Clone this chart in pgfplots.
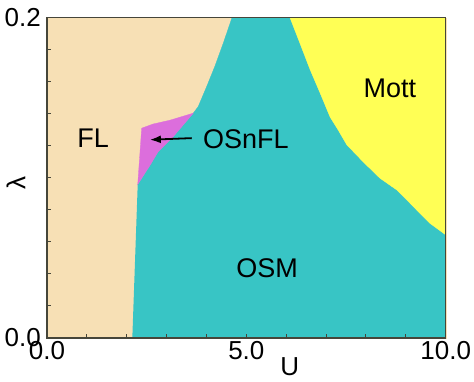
\documentclass[border=0pt]{standalone}
\usepackage{fontspec}
\setmainfont{Liberation Sans}
\usepackage{pgfplots}
\pgfplotsset{compat=1.18}
\usetikzlibrary{arrows.meta}
\definecolor{flc}{RGB}{247,224,181}
\definecolor{osmc}{RGB}{56,197,197}
\definecolor{mottc}{RGB}{255,255,85}
\definecolor{osnc}{RGB}{220,110,220}
\definecolor{axc}{RGB}{70,70,58}
\begin{document}
\begin{tikzpicture}
\begin{axis}[
  scale only axis, width=398.7pt, height=320.3pt,
  xmin=0, xmax=10, ymin=0, ymax=0.2,
  axis on top, clip=false,
  xtick={0,5,10}, xticklabels={0.0,5.0,10.0},
  ytick={0,0.2}, yticklabels={0.0,0.2},
  minor xtick={1,2,3,4,6,7,8,9},
  minor ytick={0.02,0.04,0.06,0.08,0.10,0.12,0.14,0.16,0.18},
  tick align=inside, tick pos=left,
  major tick length=4pt, minor tick length=4pt,
  every tick/.style={axc, line width=1pt},
  axis line style={axc, line width=1.2pt},
  tick label style={font=\fontsize{26}{30}\selectfont},
  yticklabel style={inner sep=0pt, xshift=-6pt},
]
\coordinate (sw) at (rel axis cs:0,0);
\coordinate (ne) at (rel axis cs:1,1);
\addplot[fill=flc, draw=flc, line width=0.3pt] coordinates {(0,0) (10,0) (10,0.2) (0,0.2)};
\addplot[fill=osmc, draw=osmc, line width=0.3pt] coordinates {
 (2.14,0) (10,0) (10,0.0644) (9.6,0.0717) (9.19,0.082) (8.77,0.0925) (8.35,0.0998)
 (7.93,0.110) (7.52,0.1206) (7.3,0.13) (7.1,0.138) (6.85,0.153) (6.6,0.1675)
 (6.345,0.184) (6.095,0.2) (4.64,0.2) (4.42,0.184) (4.21,0.1696) (4.005,0.157)
 (3.795,0.1446) (3.67,0.1404) (3.17,0.1258) (2.79,0.1164) (2.54,0.106) (2.275,0.0956)};
\addplot[fill=mottc, draw=mottc, line width=0.3pt] coordinates {
 (6.095,0.2) (6.345,0.184) (6.6,0.1675) (6.85,0.153) (7.1,0.138) (7.3,0.13)
 (7.52,0.1206) (7.93,0.110) (8.35,0.0998) (8.77,0.0925) (9.19,0.082) (9.6,0.0717)
 (10,0.0644) (10,0.2)};
\addplot[fill=osnc, draw=osnc, line width=0.3pt] coordinates {
 (2.275,0.0956) (2.375,0.131) (2.66,0.1336) (3.085,0.136) (3.67,0.1404)
 (3.17,0.1258) (2.79,0.1164) (2.54,0.106)};
\addplot[black, line width=1.8pt, -{Latex[length=11pt,width=8pt]}] coordinates {(3.63,0.1248) (2.58,0.1238)};
\node[font=\fontsize{27}{32}\selectfont, inner sep=0pt] at (axis cs:1.154,0.125) {FL};
\node[font=\fontsize{27}{32}\selectfont, inner sep=0pt] at (axis cs:4.99,0.1244) {OSnFL};
\node[font=\fontsize{27}{32}\selectfont, inner sep=0pt] at (axis cs:8.6,0.156) {Mott};
\node[font=\fontsize{27}{32}\selectfont, inner sep=0pt] at (axis cs:5.52,0.0438) {OSM};
\node[font=\fontsize{26}{30}\selectfont, inner sep=0pt] at (axis cs:6.09,-0.0181) {U};
\node[font=\fontsize{26}{30}\selectfont, inner sep=0pt, rotate=90] at (axis cs:-0.78,0.097) {λ};
\end{axis}
\pgfresetboundingbox
\path[use as bounding box] ([shift={(-47pt,-44pt)}]sw) rectangle ([shift={(28.3pt,17.7pt)}]ne);
\end{tikzpicture}
\end{document}
